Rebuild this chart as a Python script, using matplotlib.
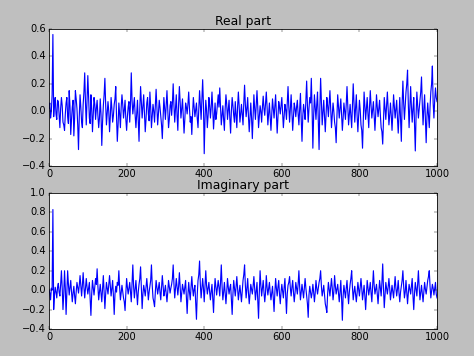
import numpy as np
import matplotlib
matplotlib.use("Agg")
import matplotlib.pyplot as plt

plt.style.use("classic")

# --- Data (one value every 2 samples) ---
SAMPLE_STEP = 2

real_part = [
    0.02, 0.06, -0.05, 0.00, 0.12, 0.56, -0.04, 0.05, 0.10, -0.02, -0.06, 0.08, 0.07, -0.03, -0.12, 0.02, 0.10, 0.04, -0.08, -0.10,
    -0.14, -0.02, 0.06, 0.10, -0.04, -0.09, 0.15, 0.04, -0.17, -0.06, 0.03, 0.08, -0.18, -0.05, 0.15, 0.09, 0.02, -0.10, -0.28, -0.04,
    0.12, 0.03, -0.08, -0.12, 0.05, 0.14, 0.28, 0.06, -0.10, 0.08, 0.26, 0.10, -0.05, -0.09, 0.12, 0.02, -0.15, -0.02, 0.10, 0.05,
    -0.06, 0.02, 0.08, -0.03, -0.12, -0.05, 0.09, -0.02, -0.25, -0.08, 0.04, 0.12, 0.24, 0.05, -0.10, -0.02, 0.07, 0.00, -0.15, -0.04,
    0.10, 0.02, -0.08, -0.03, 0.05, 0.09, 0.18, -0.04, -0.22, -0.10, 0.06, -0.02, -0.12, 0.03, 0.12, 0.05, -0.05, 0.01, 0.08, -0.06,
    -0.14, -0.04, 0.03, 0.07, -0.08, 0.05, 0.28, 0.08, -0.02, 0.04, 0.10, -0.03, -0.12, -0.02, 0.08, -0.06, -0.22, 0.02, 0.18, 0.06,
    -0.05, 0.04, 0.12, -0.02, -0.15, -0.06, 0.06, 0.10, -0.02, -0.07, 0.14, 0.03, -0.12, -0.04, 0.05, 0.00, -0.08, 0.04, 0.16, 0.02,
    -0.10, -0.02, 0.08, 0.03, -0.04, -0.10, -0.20, -0.05, 0.10, 0.02, -0.06, 0.05, 0.15, 0.01, -0.12, -0.06, 0.04, 0.07, -0.03, 0.06,
    0.20, 0.04, -0.08, 0.02, 0.12, -0.03, -0.14, 0.05, 0.18, 0.06, -0.05, 0.02, 0.09, -0.04, -0.16, -0.06, 0.06, 0.03, -0.02, 0.05,
    0.14, 0.02, -0.08, -0.04, -0.17, -0.02, 0.10, 0.03, -0.04, 0.01, 0.06, -0.05, -0.12, 0.02, 0.15, 0.04, -0.06, 0.08, 0.23, 0.05,
    -0.31, -0.06, 0.08, 0.01, -0.12, -0.03, 0.10, 0.04, -0.05, 0.03, 0.14, 0.02, -0.13, -0.04, 0.06, -0.06, -0.02, 0.05, 0.12, 0.03,
    0.17, 0.04, -0.10, -0.03, 0.04, -0.06, -0.14, 0.02, 0.12, 0.05, -0.06, 0.01, 0.08, -0.05, -0.16, 0.00, 0.10, 0.04, -0.03, -0.08,
    0.07, -0.02, -0.12, 0.03, 0.14, 0.04, -0.08, -0.02, 0.05, -0.03, -0.10, 0.06, 0.19, 0.05, -0.04, 0.02, 0.10, -0.04, -0.15, -0.05,
    0.06, -0.05, -0.20, -0.03, 0.12, 0.02, -0.06, 0.05, 0.15, 0.03, -0.12, -0.04, 0.04, 0.00, -0.08, 0.03, 0.11, 0.02, -0.03, 0.06,
    0.14, 0.03, -0.10, -0.02, 0.06, -0.04, -0.14, -0.03, 0.09, 0.02, -0.05, 0.04, 0.12, -0.02, -0.16, -0.04, 0.07, 0.03, -0.02, 0.04,
    0.10, -0.01, -0.12, -0.04, 0.05, 0.01, -0.06, 0.06, 0.18, 0.03, -0.08, 0.02, 0.12, -0.02, -0.14, -0.04, 0.06, 0.02, -0.04, 0.03,
    0.08, -0.02, -0.10, 0.02, 0.13, -0.06, -0.22, -0.04, 0.05, 0.00, -0.06, 0.08, 0.22, 0.04, -0.08, 0.02, 0.10, 0.06, 0.24, 0.02,
    -0.27, -0.04, 0.12, 0.03, -0.06, 0.05, 0.14, -0.06, -0.28, 0.02, 0.24, 0.06, -0.10, -0.01, 0.08, -0.04, -0.15, -0.02, 0.10, 0.04,
    -0.04, 0.05, 0.15, 0.02, -0.12, -0.03, 0.06, 0.00, -0.08, -0.12, -0.23, -0.04, 0.12, 0.03, -0.05, 0.02, 0.09, -0.02, -0.14, -0.05,
    0.06, 0.00, -0.06, 0.05, 0.18, 0.04, -0.10, -0.02, 0.05, -0.03, -0.12, 0.04, 0.20, 0.05, -0.08, 0.02, 0.12, -0.03, -0.15, -0.04,
    0.08, 0.01, -0.10, -0.14, -0.27, -0.05, 0.14, 0.04, -0.06, 0.02, 0.10, -0.02, -0.12, 0.03, 0.15, 0.04, -0.05, 0.01, 0.07, -0.04,
    -0.14, -0.02, 0.12, 0.03, -0.04, 0.02, 0.08, -0.03, -0.12, -0.15, -0.24, -0.06, 0.10, 0.02, -0.06, 0.04, 0.14, 0.02, -0.10, -0.03,
    0.06, -0.03, -0.14, -0.02, 0.12, 0.03, -0.05, 0.02, 0.08, -0.05, -0.16, -0.02, 0.10, -0.06, -0.22, 0.05, 0.22, 0.06, -0.06, 0.04,
    0.14, 0.20, 0.30, 0.05, -0.12, 0.04, 0.18, 0.03, -0.08, 0.02, 0.10, -0.10, -0.29, -0.03, 0.14, 0.04, -0.05, 0.02, 0.08, 0.14,
    0.25, 0.05, -0.10, 0.02, 0.12, -0.06, -0.23, -0.04, 0.06, -0.03, -0.12, 0.03, 0.14, 0.20, 0.33, 0.06, -0.05, 0.08, 0.17, 0.10,
    0.07,
]

imag_part = [
    0.00, -0.03, -0.10, 0.02, 0.00, 0.83, -0.20, -0.05, 0.03, -0.02, -0.08, 0.03, 0.07, -0.02, -0.06, 0.06, 0.20, 0.02, -0.20, -0.04,
    0.20, 0.02, -0.25, -0.04, 0.20, 0.06, -0.05, 0.03, 0.10, -0.02, -0.12, -0.03, 0.04, -0.06, -0.14, -0.02, 0.08, 0.03, -0.03, 0.05,
    0.15, 0.04, -0.06, 0.05, 0.18, 0.03, -0.08, 0.02, 0.12, 0.03, -0.04, 0.02, 0.08, -0.08, -0.26, -0.04, 0.10, 0.02, -0.05, 0.04,
    0.12, 0.06, 0.22, 0.04, -0.10, -0.02, 0.06, -0.03, -0.12, 0.02, 0.15, -0.02, -0.19, -0.04, 0.08, 0.02, -0.04, 0.06, 0.15, 0.04,
    -0.06, 0.02, 0.10, -0.06, -0.25, -0.04, 0.04, -0.02, 0.08, 0.05, 0.20, 0.03, -0.10, -0.03, 0.05, -0.02, -0.08, -0.12, -0.21, -0.03,
    0.12, 0.03, -0.04, 0.02, 0.08, -0.02, -0.12, 0.06, 0.26, 0.04, -0.08, 0.01, 0.10, -0.03, -0.15, -0.02, 0.06, 0.12, 0.24, 0.02,
    -0.19, -0.04, 0.05, 0.00, -0.06, 0.03, 0.12, 0.02, -0.10, -0.02, 0.04, 0.10, 0.26, 0.05, -0.08, -0.12, -0.17, -0.02, 0.10, 0.03,
    -0.04, 0.02, 0.08, -0.02, -0.10, 0.03, 0.15, 0.04, -0.06, -0.01, 0.05, -0.04, -0.12, -0.02, 0.10, 0.03, -0.03, 0.02, 0.06, 0.12,
    0.26, 0.06, -0.08, 0.02, 0.12, 0.03, -0.05, 0.04, 0.18, 0.02, -0.12, -0.03, 0.06, 0.01, -0.04, 0.03, 0.10, -0.06, -0.24, -0.05,
    0.08, -0.02, -0.10, 0.03, 0.14, 0.02, -0.06, 0.01, 0.05, -0.12, -0.30, -0.05, 0.10, 0.16, 0.30, 0.06, -0.08, 0.02, 0.12, 0.02,
    -0.12, 0.04, 0.20, 0.05, -0.04, 0.02, 0.08, -0.02, -0.10, -0.01, 0.06, -0.08, -0.23, -0.02, 0.12, 0.03, -0.05, 0.02, 0.10, 0.03,
    -0.06, 0.08, 0.26, 0.04, -0.10, -0.02, 0.08, -0.03, -0.14, -0.02, 0.12, 0.03, -0.04, 0.02, 0.06, -0.10, -0.25, -0.04, 0.10, 0.02,
    -0.06, 0.03, 0.14, 0.02, -0.10, -0.02, 0.05, -0.03, -0.12, -0.01, 0.10, 0.16, 0.26, 0.05, -0.08, 0.02, 0.12, -0.03, -0.14, -0.04,
    0.06, 0.01, -0.04, 0.04, 0.14, 0.02, -0.10, -0.01, 0.08, -0.10, -0.29, -0.02, 0.20, 0.05, -0.06, 0.02, 0.10, -0.02, -0.12, -0.03,
    0.15, 0.03, -0.05, 0.02, 0.08, -0.02, -0.10, -0.03, 0.04, -0.08, -0.22, -0.03, 0.12, 0.02, -0.06, 0.03, 0.10, -0.04, -0.14, -0.02,
    0.06, -0.01, -0.08, 0.03, 0.12, -0.06, -0.24, -0.04, 0.05, 0.08, 0.14, 0.02, -0.06, 0.03, 0.10, -0.02, -0.12, -0.03, 0.08, 0.02,
    -0.04, 0.06, 0.20, 0.03, -0.10, -0.02, 0.06, -0.01, -0.08, 0.02, 0.12, 0.02, -0.06, -0.14, -0.28, -0.05, 0.04, -0.02, -0.08, -0.03,
    0.06, -0.02, -0.12, -0.03, 0.10, 0.02, -0.04, 0.02, 0.08, 0.12, 0.20, 0.04, -0.06, -0.01, 0.05, -0.04, -0.14, -0.18, -0.23, -0.04,
    0.08, 0.01, -0.06, 0.03, 0.12, 0.02, -0.10, -0.02, 0.15, 0.04, -0.04, 0.01, 0.06, -0.03, -0.12, -0.02, 0.10, -0.08, -0.31, -0.06,
    0.05, -0.02, -0.08, 0.02, 0.10, -0.03, -0.14, -0.02, 0.06, 0.12, 0.20, 0.03, -0.10, -0.02, 0.04, -0.04, -0.12, -0.03, 0.08, 0.01,
    -0.06, 0.03, 0.12, 0.02, -0.10, -0.03, 0.05, -0.06, -0.20, -0.04, 0.10, 0.02, -0.05, 0.01, 0.08, -0.03, -0.12, 0.04, 0.20, 0.05,
    -0.04, 0.01, 0.06, -0.04, -0.14, -0.02, 0.10, 0.02, -0.06, 0.08, 0.27, 0.02, -0.18, -0.04, 0.08, 0.02, -0.04, 0.03, 0.12, 0.02,
    -0.10, -0.02, 0.05, -0.02, -0.08, 0.03, 0.14, 0.02, -0.06, 0.01, 0.10, -0.03, -0.12, -0.02, 0.04, 0.10, 0.20, 0.04, -0.08, -0.02,
    0.10, -0.02, -0.14, -0.03, 0.06, 0.01, -0.04, 0.04, 0.12, -0.06, -0.20, -0.03, 0.08, 0.01, -0.06, 0.06, 0.20, 0.03, -0.10, -0.02,
    0.05, -0.03, -0.12, -0.02, 0.08, 0.01, -0.04, 0.03, 0.10, 0.14, 0.20, 0.04, -0.08, -0.01, 0.06, 0.02, -0.05, 0.02, 0.08, -0.04,
    -0.08,
]

real_index = np.arange(len(real_part)) * SAMPLE_STEP
imag_index = np.arange(len(imag_part)) * SAMPLE_STEP

# original was an 8x6 figure shrunk down to 474x356
DPI = 59.25
BG = "0.75"
fig = plt.figure(figsize=(474 / DPI, 356 / DPI), dpi=DPI, facecolor=BG)

# --- Real part ---
ax1 = fig.add_axes([0.1034, 0.5337, 0.8186, 0.3848])
ax1.plot(real_index, real_part, color="b", linewidth=1.4)
ax1.set_xlim(0, 1000)
ax1.set_ylim(-0.4, 0.6)
ax1.set_title("Real part", fontsize=15)

# --- Imaginary part ---
ax2 = fig.add_axes([0.1034, 0.0758, 0.8186, 0.3820])
ax2.plot(imag_index, imag_part, color="b", linewidth=1.4)
ax2.set_xlim(0, 1000)
ax2.set_ylim(-0.4, 1.0)
ax2.set_title("Imaginary part", fontsize=15)

fig.savefig("out.png", dpi=DPI, facecolor=BG)
